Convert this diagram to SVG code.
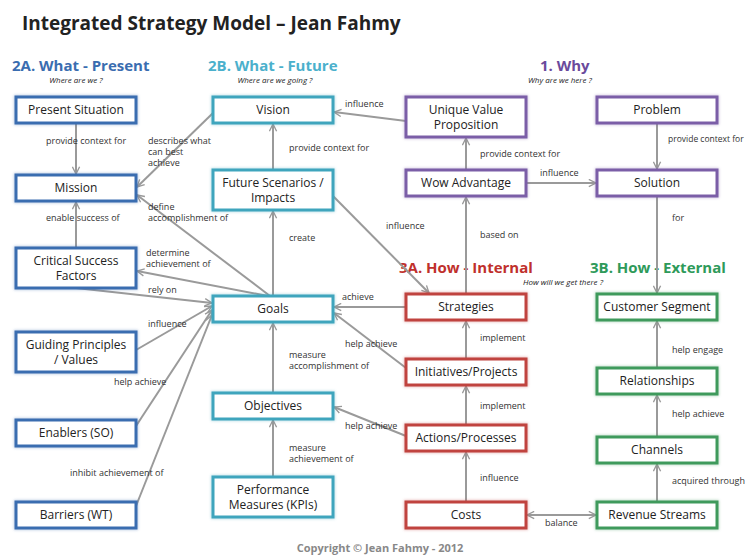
<svg xmlns="http://www.w3.org/2000/svg" width="750" height="557" viewBox="0 0 750 557">
<defs>
<marker id="a" viewBox="0 0 10 10" refX="9" refY="5" markerWidth="9" markerHeight="9" orient="auto-start-reverse" markerUnits="userSpaceOnUse"><path d="M1,1 L9,5 L1,9" fill="none" stroke="#999" stroke-width="1.5"/></marker>
<filter id="g" x="-10%" y="-20%" width="120%" height="140%"><feGaussianBlur stdDeviation="1.5"/></filter>
</defs>
<style>
text{font-family:"Open Sans","Liberation Sans",sans-serif}
.n{font-size:12px;fill:#222;text-anchor:middle}
.l{font-size:9px;fill:#333}
.q{font-size:8px;font-style:italic;fill:#222;text-anchor:middle}
.h{font-size:15px;font-weight:bold}
.c line,.c path{stroke:#9a9a9a;stroke-width:2;fill:none;marker-end:url(#a)}
rect.b{fill:#fff;stroke-width:3}
rect.o{fill:none;stroke-width:4;opacity:.35;filter:url(#g)}
.bl rect{stroke:#3a6db0}.tl rect{stroke:#3fa5bd}.pu rect{stroke:#7b5ea7}.rd rect{stroke:#c0433f}.gr rect{stroke:#3f9a5c}
</style>
<rect width="750" height="557" fill="#fff"/>
<text x="22" y="30" font-size="19" font-weight="bold" fill="#222">Integrated Strategy Model – Jean Fahmy</text>
<text class="h" x="12" y="71" fill="#3a6db0">2A. What - Present</text>
<text class="q" x="76" y="83">Where are we ?</text>
<text class="h" x="208" y="71" fill="#4bb0cc">2B. What - Future</text>
<text class="q" x="275" y="83">Where are we going ?</text>
<text class="h" x="540" y="71" fill="#6a4a9c">1. Why</text>
<text class="q" x="560" y="83">Why are we here ?</text>
<text class="h" x="399" y="273" fill="#c0302c">3A. How - Internal</text>
<text class="q" x="563" y="285">How will we get there ?</text>
<text class="h" x="590" y="273" fill="#2e9a5a">3B. How - External</text>
<text x="380" y="552" font-size="11" font-weight="bold" fill="#888" text-anchor="middle">Copyright © Jean Fahmy - 2012</text>

<g class="c">
<line x1="76" y1="123" x2="76" y2="174"/>
<line x1="76" y1="248" x2="76" y2="202"/>
<line x1="270" y1="296" x2="137" y2="195"/>
<line x1="213" y1="113" x2="137" y2="187"/>
<line x1="268" y1="296" x2="137" y2="271"/>
<line x1="76" y1="288" x2="212" y2="303"/>
<line x1="136" y1="350" x2="212" y2="306"/>
<line x1="136" y1="426" x2="212" y2="310"/>
<line x1="136" y1="506" x2="212" y2="315"/>
<line x1="273" y1="296" x2="273" y2="211"/>
<line x1="273" y1="170" x2="273" y2="124"/>
<line x1="406" y1="121" x2="334" y2="112"/>
<line x1="333" y1="196" x2="429" y2="293"/>
<line x1="466" y1="170" x2="466" y2="138"/>
<line x1="466" y1="294" x2="466" y2="197"/>
<line x1="526" y1="183" x2="596" y2="183"/>
<line x1="657" y1="123" x2="657" y2="169"/>
<line x1="657" y1="196" x2="657" y2="293"/>
<line x1="406" y1="307" x2="334" y2="307"/>
<line x1="406" y1="368" x2="334" y2="313"/>
<line x1="466" y1="359" x2="466" y2="321"/>
<line x1="466" y1="425" x2="466" y2="386"/>
<line x1="406" y1="436" x2="334" y2="407"/>
<line x1="273" y1="393" x2="273" y2="323"/>
<line x1="273" y1="477" x2="273" y2="420"/>
<line x1="466" y1="502" x2="466" y2="452"/>
<line x1="527" y1="515" x2="596" y2="515" style="marker-start:url(#a)"/>
<line x1="657" y1="502" x2="657" y2="464"/>
<line x1="657" y1="437" x2="657" y2="395"/>
<line x1="657" y1="368" x2="657" y2="321"/>
</g>
<g id="labels" class="l">
<text x="46" y="144">provide context for</text>
<text x="148" y="144">describes what</text><text x="148" y="155">can best</text><text x="148" y="166">achieve</text>
<text x="46" y="221">enable success of</text>
<text x="148" y="210">define</text><text x="148" y="221">accomplishment of</text>
<text x="146" y="256">determine</text><text x="146" y="267">achievement of</text>
<text x="148" y="293">rely on</text>
<text x="148" y="327">influence</text>
<text x="114" y="385">help achieve</text>
<text x="70" y="476">inhibit achievement of</text>
<text x="289" y="151">provide context for</text>
<text x="289" y="241">create</text>
<text x="289" y="358">measure</text><text x="289" y="369">accomplishment of</text>
<text x="289" y="451">measure</text><text x="289" y="462">achievement of</text>
<text x="345" y="107">influence</text>
<text x="386" y="229">influence</text>
<text x="480" y="157">provide context for</text>
<text x="540" y="176">influence</text>
<text x="480" y="238">based on</text>
<text x="668" y="142" font-size="8.5">provide context for</text>
<text x="672" y="221">for</text>
<text x="342" y="300">achieve</text>
<text x="345" y="347">help achieve</text>
<text x="480" y="341">implement</text>
<text x="480" y="409">implement</text>
<text x="345" y="429">help achieve</text>
<text x="480" y="481">influence</text>
<text x="545" y="526">balance</text>
<text x="672" y="353">help engage</text>
<text x="672" y="417">help achieve</text>
<text x="672" y="484">acquired through</text>
</g>

<g id="present" class="bl"><rect class="o" x="16" y="97" width="120" height="26"/><rect class="b" x="16" y="97" width="120" height="26"/><text class="n" x="76" y="114">Present Situation</text></g>
<g id="mission" class="bl"><rect class="o" x="16" y="175" width="120" height="26"/><rect class="b" x="16" y="175" width="120" height="26"/><text class="n" x="76" y="192">Mission</text></g>
<g id="csf" class="bl"><rect class="o" x="16" y="248" width="120" height="40"/><rect class="b" x="16" y="248" width="120" height="40"/><text class="n" x="76" y="265">Critical Success</text><text class="n" x="76" y="280">Factors</text></g>
<g id="guiding" class="bl"><rect class="o" x="16" y="332" width="120" height="40"/><rect class="b" x="16" y="332" width="120" height="40"/><text class="n" x="76" y="349">Guiding Principles</text><text class="n" x="76" y="364">/ Values</text></g>
<g id="enablers" class="bl"><rect class="o" x="16" y="420" width="120" height="26"/><rect class="b" x="16" y="420" width="120" height="26"/><text class="n" x="76" y="437">Enablers (SO)</text></g>
<g id="barriers" class="bl"><rect class="o" x="16" y="502" width="120" height="26"/><rect class="b" x="16" y="502" width="120" height="26"/><text class="n" x="76" y="519">Barriers (WT)</text></g>

<g id="vision" class="tl"><rect class="o" x="213" y="97" width="120" height="26"/><rect class="b" x="213" y="97" width="120" height="26"/><text class="n" x="273" y="114">Vision</text></g>
<g id="future" class="tl"><rect class="o" x="213" y="170" width="120" height="40"/><rect class="b" x="213" y="170" width="120" height="40"/><text class="n" x="273" y="187">Future Scenarios /</text><text class="n" x="273" y="202">Impacts</text></g>
<g id="goals" class="tl"><rect class="o" x="213" y="296" width="120" height="26"/><rect class="b" x="213" y="296" width="120" height="26"/><text class="n" x="273" y="313">Goals</text></g>
<g id="objectives" class="tl"><rect class="o" x="213" y="393" width="120" height="26"/><rect class="b" x="213" y="393" width="120" height="26"/><text class="n" x="273" y="410">Objectives</text></g>
<g id="kpis" class="tl"><rect class="o" x="213" y="477" width="120" height="40"/><rect class="b" x="213" y="477" width="120" height="40"/><text class="n" x="273" y="494">Performance</text><text class="n" x="273" y="509">Measures (KPIs)</text></g>

<g id="uvp" class="pu"><rect class="o" x="406" y="97" width="120" height="40"/><rect class="b" x="406" y="97" width="120" height="40"/><text class="n" x="466" y="114">Unique Value</text><text class="n" x="466" y="129">Proposition</text></g>
<g id="wow" class="pu"><rect class="o" x="406" y="170" width="120" height="26"/><rect class="b" x="406" y="170" width="120" height="26"/><text class="n" x="466" y="187">Wow Advantage</text></g>
<g id="problem" class="pu"><rect class="o" x="597" y="97" width="120" height="26"/><rect class="b" x="597" y="97" width="120" height="26"/><text class="n" x="657" y="114">Problem</text></g>
<g id="solution" class="pu"><rect class="o" x="597" y="170" width="120" height="26"/><rect class="b" x="597" y="170" width="120" height="26"/><text class="n" x="657" y="187">Solution</text></g>

<g id="strategies" class="rd"><rect class="o" x="406" y="294" width="120" height="26"/><rect class="b" x="406" y="294" width="120" height="26"/><text class="n" x="466" y="311">Strategies</text></g>
<g id="initiatives" class="rd"><rect class="o" x="406" y="359" width="120" height="26"/><rect class="b" x="406" y="359" width="120" height="26"/><text class="n" x="466" y="376">Initiatives/Projects</text></g>
<g id="actions" class="rd"><rect class="o" x="406" y="425" width="120" height="26"/><rect class="b" x="406" y="425" width="120" height="26"/><text class="n" x="466" y="442">Actions/Processes</text></g>
<g id="costs" class="rd"><rect class="o" x="406" y="502" width="120" height="26"/><rect class="b" x="406" y="502" width="120" height="26"/><text class="n" x="466" y="519">Costs</text></g>

<g id="customer" class="gr"><rect class="o" x="597" y="294" width="120" height="26"/><rect class="b" x="597" y="294" width="120" height="26"/><text class="n" x="657" y="311">Customer Segment</text></g>
<g id="relationships" class="gr"><rect class="o" x="597" y="368" width="120" height="26"/><rect class="b" x="597" y="368" width="120" height="26"/><text class="n" x="657" y="385">Relationships</text></g>
<g id="channels" class="gr"><rect class="o" x="597" y="437" width="120" height="26"/><rect class="b" x="597" y="437" width="120" height="26"/><text class="n" x="657" y="454">Channels</text></g>
<g id="revenue" class="gr"><rect class="o" x="597" y="502" width="120" height="26"/><rect class="b" x="597" y="502" width="120" height="26"/><text class="n" x="657" y="519">Revenue Streams</text></g>
</svg>
